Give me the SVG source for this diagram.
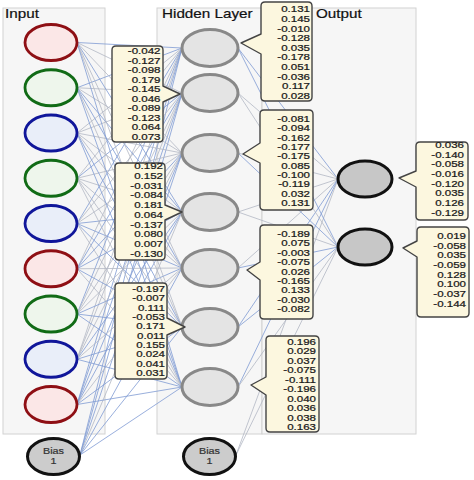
<svg xmlns="http://www.w3.org/2000/svg" width="474" height="480" viewBox="0 0 474 480">
<style>
.panel{fill:#f6f6f6;stroke:#d2d2d2;stroke-width:1}
.title{font-family:"Liberation Sans",Arial,sans-serif;font-size:12.5px;fill:#111;stroke:#111;stroke-width:0.2}
.num{font-family:"Liberation Sans",Arial,sans-serif;font-size:9.6px;fill:#1a1a1a;stroke:#1a1a1a;stroke-width:0.25;text-anchor:end}
.bias{font-family:"Liberation Sans",Arial,sans-serif;font-size:9px;fill:#333;stroke:#333;stroke-width:0.2;text-anchor:middle}
.box{fill:#fcf7df;stroke:#444;stroke-width:1.4;stroke-linejoin:round}
.p{stroke:#7f9bd3;stroke-width:0.8}
.n{stroke:#b3b8c4;stroke-width:0.8}
.red{fill:#fbe7e7;stroke:#8e0f14;stroke-width:2.8}
.grn{fill:#eef6ec;stroke:#116b16;stroke-width:2.8}
.blu{fill:#e9eef9;stroke:#10169a;stroke-width:2.8}
.hid{fill:#e4e4e4;stroke:#888;stroke-width:3}
.out{fill:#c7c7c7;stroke:#111;stroke-width:3}
.bn{fill:#cccccc;stroke:#111;stroke-width:3}
</style>
<g id="panels">
<rect class="panel" x="3" y="8" width="102" height="426"/>
<rect class="panel" x="157" y="8" width="105" height="426"/>
<rect class="panel" x="262" y="8" width="154" height="426"/>
<text class="title" transform="translate(5,17.5) scale(1.22,1)">Input</text>
<text class="title" transform="translate(162,18) scale(1.22,1)">Hidden Layer</text>
<text class="title" transform="translate(316,18) scale(1.22,1)">Output</text>
</g>
<g id="connectors">
<line class="p" x1="77" y1="42.5" x2="182" y2="48"/>
<line class="p" x1="77" y1="87.75" x2="182" y2="48"/>
<line class="n" x1="77" y1="133" x2="182" y2="48"/>
<line class="n" x1="77" y1="178.25" x2="182" y2="48"/>
<line class="p" x1="77" y1="223.5" x2="182" y2="48"/>
<line class="n" x1="77" y1="268.75" x2="182" y2="48"/>
<line class="p" x1="77" y1="314" x2="182" y2="48"/>
<line class="n" x1="77" y1="359.25" x2="182" y2="48"/>
<line class="p" x1="77" y1="404.5" x2="182" y2="48"/>
<line class="p" x1="80" y1="455" x2="182" y2="48"/>
<line class="n" x1="77" y1="42.5" x2="182" y2="93"/>
<line class="n" x1="77" y1="87.75" x2="182" y2="93"/>
<line class="n" x1="77" y1="133" x2="182" y2="93"/>
<line class="p" x1="77" y1="178.25" x2="182" y2="93"/>
<line class="n" x1="77" y1="223.5" x2="182" y2="93"/>
<line class="p" x1="77" y1="268.75" x2="182" y2="93"/>
<line class="n" x1="77" y1="314" x2="182" y2="93"/>
<line class="n" x1="77" y1="359.25" x2="182" y2="93"/>
<line class="p" x1="77" y1="404.5" x2="182" y2="93"/>
<line class="p" x1="80" y1="455" x2="182" y2="93"/>
<line class="n" x1="77" y1="42.5" x2="182" y2="153"/>
<line class="n" x1="77" y1="87.75" x2="182" y2="153"/>
<line class="n" x1="77" y1="133" x2="182" y2="153"/>
<line class="n" x1="77" y1="178.25" x2="182" y2="153"/>
<line class="n" x1="77" y1="223.5" x2="182" y2="153"/>
<line class="p" x1="77" y1="268.75" x2="182" y2="153"/>
<line class="n" x1="77" y1="314" x2="182" y2="153"/>
<line class="n" x1="77" y1="359.25" x2="182" y2="153"/>
<line class="p" x1="77" y1="404.5" x2="182" y2="153"/>
<line class="p" x1="80" y1="455" x2="182" y2="153"/>
<line class="p" x1="77" y1="42.5" x2="182" y2="212"/>
<line class="p" x1="77" y1="87.75" x2="182" y2="212"/>
<line class="n" x1="77" y1="133" x2="182" y2="212"/>
<line class="n" x1="77" y1="178.25" x2="182" y2="212"/>
<line class="p" x1="77" y1="223.5" x2="182" y2="212"/>
<line class="p" x1="77" y1="268.75" x2="182" y2="212"/>
<line class="n" x1="77" y1="314" x2="182" y2="212"/>
<line class="p" x1="77" y1="359.25" x2="182" y2="212"/>
<line class="p" x1="77" y1="404.5" x2="182" y2="212"/>
<line class="n" x1="80" y1="455" x2="182" y2="212"/>
<line class="n" x1="77" y1="42.5" x2="182" y2="268"/>
<line class="p" x1="77" y1="87.75" x2="182" y2="268"/>
<line class="n" x1="77" y1="133" x2="182" y2="268"/>
<line class="n" x1="77" y1="178.25" x2="182" y2="268"/>
<line class="p" x1="77" y1="223.5" x2="182" y2="268"/>
<line class="n" x1="77" y1="268.75" x2="182" y2="268"/>
<line class="p" x1="77" y1="314" x2="182" y2="268"/>
<line class="n" x1="77" y1="359.25" x2="182" y2="268"/>
<line class="n" x1="77" y1="404.5" x2="182" y2="268"/>
<line class="p" x1="80" y1="455" x2="182" y2="268"/>
<line class="n" x1="77" y1="42.5" x2="182" y2="327"/>
<line class="n" x1="77" y1="87.75" x2="182" y2="327"/>
<line class="p" x1="77" y1="133" x2="182" y2="327"/>
<line class="n" x1="77" y1="178.25" x2="182" y2="327"/>
<line class="p" x1="77" y1="223.5" x2="182" y2="327"/>
<line class="p" x1="77" y1="268.75" x2="182" y2="327"/>
<line class="p" x1="77" y1="314" x2="182" y2="327"/>
<line class="p" x1="77" y1="359.25" x2="182" y2="327"/>
<line class="p" x1="77" y1="404.5" x2="182" y2="327"/>
<line class="p" x1="80" y1="455" x2="182" y2="327"/>
<line class="p" x1="77" y1="42.5" x2="182" y2="387"/>
<line class="p" x1="77" y1="87.75" x2="182" y2="387"/>
<line class="p" x1="77" y1="133" x2="182" y2="387"/>
<line class="n" x1="77" y1="178.25" x2="182" y2="387"/>
<line class="n" x1="77" y1="223.5" x2="182" y2="387"/>
<line class="n" x1="77" y1="268.75" x2="182" y2="387"/>
<line class="p" x1="77" y1="314" x2="182" y2="387"/>
<line class="p" x1="77" y1="359.25" x2="182" y2="387"/>
<line class="p" x1="77" y1="404.5" x2="182" y2="387"/>
<line class="p" x1="80" y1="455" x2="182" y2="387"/>
<line class="p" x1="238" y1="48" x2="338" y2="179"/>
<line class="n" x1="238" y1="93" x2="338" y2="179"/>
<line class="n" x1="238" y1="153" x2="338" y2="179"/>
<line class="n" x1="238" y1="212" x2="338" y2="179"/>
<line class="n" x1="238" y1="268" x2="338" y2="179"/>
<line class="p" x1="238" y1="327" x2="338" y2="179"/>
<line class="p" x1="238" y1="387" x2="338" y2="179"/>
<line class="n" x1="236" y1="455" x2="338" y2="179"/>
<line class="p" x1="238" y1="48" x2="338" y2="247"/>
<line class="n" x1="238" y1="93" x2="338" y2="247"/>
<line class="p" x1="238" y1="153" x2="338" y2="247"/>
<line class="n" x1="238" y1="212" x2="338" y2="247"/>
<line class="p" x1="238" y1="268" x2="338" y2="247"/>
<line class="p" x1="238" y1="327" x2="338" y2="247"/>
<line class="n" x1="238" y1="387" x2="338" y2="247"/>
<line class="n" x1="236" y1="455" x2="338" y2="247"/>
</g>
<g id="input-nodes">
<ellipse id="in1" class="red" cx="51" cy="42.5" rx="26" ry="18"/>
<ellipse id="in2" class="grn" cx="51" cy="87.75" rx="26" ry="18"/>
<ellipse id="in3" class="blu" cx="51" cy="133" rx="26" ry="18"/>
<ellipse id="in4" class="grn" cx="51" cy="178.25" rx="26" ry="18"/>
<ellipse id="in5" class="blu" cx="51" cy="223.5" rx="26" ry="18"/>
<ellipse id="in6" class="red" cx="51" cy="268.75" rx="26" ry="18"/>
<ellipse id="in7" class="grn" cx="51" cy="314" rx="26" ry="18"/>
<ellipse id="in8" class="blu" cx="51" cy="359.25" rx="26" ry="18"/>
<ellipse id="in9" class="red" cx="51" cy="404.5" rx="26" ry="18"/>
</g>
<g id="input-bias">
<ellipse class="bn" cx="53.5" cy="456.5" rx="26" ry="18"/>
<text class="bias" transform="translate(53.5,454) scale(1.2,1)">Bias</text>
<text class="bias" transform="translate(53.5,463.5) scale(1.2,1)">1</text>
</g>
<g id="hidden-nodes">
<ellipse id="h1" class="hid" cx="210" cy="48" rx="28" ry="18.5"/>
<ellipse id="h2" class="hid" cx="210" cy="93" rx="28" ry="18.5"/>
<ellipse id="h3" class="hid" cx="210" cy="153" rx="28" ry="18.5"/>
<ellipse id="h4" class="hid" cx="210" cy="212" rx="28" ry="18.5"/>
<ellipse id="h5" class="hid" cx="210" cy="268" rx="28" ry="18.5"/>
<ellipse id="h6" class="hid" cx="210" cy="327" rx="28" ry="18.5"/>
<ellipse id="h7" class="hid" cx="210" cy="387" rx="28" ry="18.5"/>
</g>
<g id="hidden-bias">
<ellipse class="bn" cx="209.5" cy="456.5" rx="26" ry="18"/>
<text class="bias" transform="translate(209.5,454) scale(1.2,1)">Bias</text>
<text class="bias" transform="translate(209.5,463.5) scale(1.2,1)">1</text>
</g>
<g id="output-nodes">
<ellipse id="o1" class="out" cx="365" cy="179" rx="27" ry="18"/>
<ellipse id="o2" class="out" cx="365" cy="247" rx="27" ry="18"/>
</g>
<g id="box-h2">
<path class="box" d="M116,46 H159 Q163,46 163,50 V86 L180,94 L163,102 V138 Q163,142 159,142 H116 Q112,142 112,138 V50 Q112,46 116,46 Z"/>
<text class="num" transform="translate(160.5,0) scale(1.2,1)"><tspan x="0" y="54">-0.042</tspan><tspan x="0" dy="9.55">-0.127</tspan><tspan x="0" dy="9.55">-0.098</tspan><tspan x="0" dy="9.55">0.179</tspan><tspan x="0" dy="9.55">-0.145</tspan><tspan x="0" dy="9.55">0.046</tspan><tspan x="0" dy="9.55">-0.089</tspan><tspan x="0" dy="9.55">-0.123</tspan><tspan x="0" dy="9.55">0.064</tspan><tspan x="0" dy="9.55">0.073</tspan></text>
</g>
<g id="box-h4">
<path class="box" d="M119,163 H161 Q165,163 165,167 V205 L182,212 L165,220 V256 Q165,260 161,260 H119 Q115,260 115,256 V167 Q115,163 119,163 Z"/>
<text class="num" transform="translate(163,0) scale(1.2,1)"><tspan x="0" y="169">0.192</tspan><tspan x="0" dy="9.78">0.152</tspan><tspan x="0" dy="9.78">-0.031</tspan><tspan x="0" dy="9.78">-0.084</tspan><tspan x="0" dy="9.78">0.181</tspan><tspan x="0" dy="9.78">0.064</tspan><tspan x="0" dy="9.78">-0.137</tspan><tspan x="0" dy="9.78">0.080</tspan><tspan x="0" dy="9.78">0.007</tspan><tspan x="0" dy="9.78">-0.130</tspan></text>
</g>
<g id="box-h6">
<path class="box" d="M119,283 H163 Q167,283 167,287 V318 L185,327 L167,335 V375 Q167,379 163,379 H119 Q115,379 115,375 V287 Q115,283 119,283 Z"/>
<text class="num" transform="translate(165,0) scale(1.2,1)"><tspan x="0" y="292">-0.197</tspan><tspan x="0" dy="9.33">-0.007</tspan><tspan x="0" dy="9.33">0.111</tspan><tspan x="0" dy="9.33">-0.053</tspan><tspan x="0" dy="9.33">0.171</tspan><tspan x="0" dy="9.33">0.011</tspan><tspan x="0" dy="9.33">0.155</tspan><tspan x="0" dy="9.33">0.024</tspan><tspan x="0" dy="9.33">0.041</tspan><tspan x="0" dy="9.33">0.031</tspan></text>
</g>
<g id="box-h1">
<path class="box" d="M265,2 H308 Q312,2 312,6 V97 Q312,101 308,101 H265 Q261,101 261,97 V54 L241,43 L261,34 V6 Q261,2 265,2 Z"/>
<text class="num" transform="translate(310,0) scale(1.2,1)"><tspan x="0" y="12.5">0.131</tspan><tspan x="0" dy="9.6">0.145</tspan><tspan x="0" dy="9.6">-0.010</tspan><tspan x="0" dy="9.6">-0.128</tspan><tspan x="0" dy="9.6">0.035</tspan><tspan x="0" dy="9.6">-0.178</tspan><tspan x="0" dy="9.6">0.051</tspan><tspan x="0" dy="9.6">-0.036</tspan><tspan x="0" dy="9.6">0.117</tspan><tspan x="0" dy="9.6">0.028</tspan></text>
</g>
<g id="box-h3">
<path class="box" d="M264,110 H309 Q313,110 313,114 V206 Q313,210 309,210 H264 Q260,210 260,206 V163 L243,154 L260,143 V114 Q260,110 264,110 Z"/>
<text class="num" transform="translate(310,0) scale(1.2,1)"><tspan x="0" y="122">-0.081</tspan><tspan x="0" dy="9.33">-0.094</tspan><tspan x="0" dy="9.33">-0.162</tspan><tspan x="0" dy="9.33">-0.177</tspan><tspan x="0" dy="9.33">-0.175</tspan><tspan x="0" dy="9.33">0.085</tspan><tspan x="0" dy="9.33">-0.100</tspan><tspan x="0" dy="9.33">-0.119</tspan><tspan x="0" dy="9.33">0.032</tspan><tspan x="0" dy="9.33">0.131</tspan></text>
</g>
<g id="box-h5">
<path class="box" d="M264,225 H309 Q313,225 313,229 V315 Q313,319 309,319 H264 Q260,319 260,315 V280 L247,270 L260,262 V229 Q260,225 264,225 Z"/>
<text class="num" transform="translate(310,0) scale(1.2,1)"><tspan x="0" y="237">-0.189</tspan><tspan x="0" dy="9.4">0.075</tspan><tspan x="0" dy="9.4">-0.003</tspan><tspan x="0" dy="9.4">-0.075</tspan><tspan x="0" dy="9.4">0.026</tspan><tspan x="0" dy="9.4">-0.165</tspan><tspan x="0" dy="9.4">0.133</tspan><tspan x="0" dy="9.4">-0.030</tspan><tspan x="0" dy="9.4">-0.082</tspan></text>
</g>
<g id="box-h7">
<path class="box" d="M270,336 H315 Q319,336 319,340 V428 Q319,432 315,432 H270 Q266,432 266,428 V395 L251,385 L266,377 V340 Q266,336 270,336 Z"/>
<text class="num" transform="translate(316,0) scale(1.2,1)"><tspan x="0" y="345">0.196</tspan><tspan x="0" dy="9.44">0.029</tspan><tspan x="0" dy="9.44">0.037</tspan><tspan x="0" dy="9.44">-0.075</tspan><tspan x="0" dy="9.44">-0.111</tspan><tspan x="0" dy="9.44">-0.196</tspan><tspan x="0" dy="9.44">0.040</tspan><tspan x="0" dy="9.44">0.036</tspan><tspan x="0" dy="9.44">0.038</tspan><tspan x="0" dy="9.44">0.163</tspan></text>
</g>
<g id="box-o1">
<path class="box" d="M420,142 H464 Q468,142 468,146 V216 Q468,220 464,220 H420 Q416,220 416,216 V187 L399,178 L416,171 V146 Q416,142 420,142 Z"/>
<text class="num" transform="translate(464,0) scale(1.2,1)"><tspan x="0" y="148">0.036</tspan><tspan x="0" dy="9.7">-0.140</tspan><tspan x="0" dy="9.7">-0.058</tspan><tspan x="0" dy="9.7">-0.016</tspan><tspan x="0" dy="9.7">-0.120</tspan><tspan x="0" dy="9.7">0.035</tspan><tspan x="0" dy="9.7">0.126</tspan><tspan x="0" dy="9.7">-0.129</tspan></text>
</g>
<g id="box-o2">
<path class="box" d="M421,227 H465 Q469,227 469,231 V313 Q469,317 465,317 H421 Q417,317 417,313 V257 L403,248 L417,241 V231 Q417,227 421,227 Z"/>
<text class="num" transform="translate(466,0) scale(1.2,1)"><tspan x="0" y="239">0.019</tspan><tspan x="0" dy="9.7">-0.058</tspan><tspan x="0" dy="9.7">0.035</tspan><tspan x="0" dy="9.7">-0.059</tspan><tspan x="0" dy="9.7">0.128</tspan><tspan x="0" dy="9.7">0.100</tspan><tspan x="0" dy="9.7">-0.037</tspan><tspan x="0" dy="9.7">-0.144</tspan></text>
</g>
</svg>
